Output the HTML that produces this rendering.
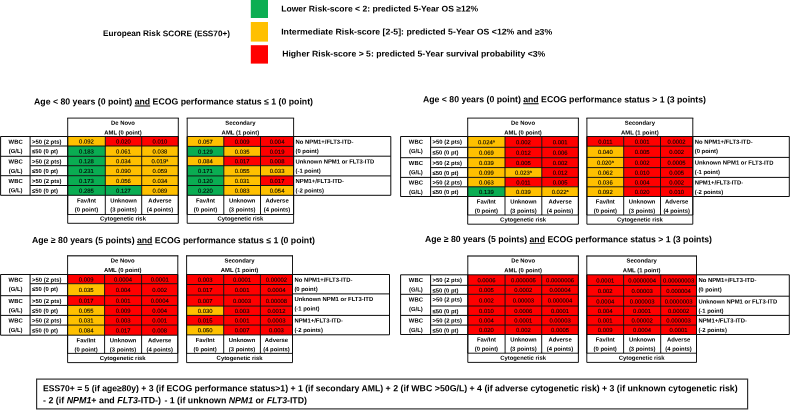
<!DOCTYPE html>
<html lang="en"><head><meta charset="utf-8"><title>European Risk SCORE (ESS70+)</title>
<style>
html,body{margin:0;padding:0;background:#fff;}
svg{display:block;}
text{font-family:"Liberation Sans", sans-serif;fill:#000;}
.n{stroke:#000;stroke-width:0.1px;}
</style></head><body>
<svg width="790" height="410" viewBox="0 0 790 410">
<rect x="0" y="0" width="790" height="410" fill="#ffffff"/>
<rect x="250.80" y="0.00" width="17.20" height="18.00" fill="#0cae52"/>
<rect x="250.80" y="22.00" width="17.20" height="19.60" fill="#ffc000"/>
<rect x="250.80" y="45.20" width="17.20" height="18.40" fill="#ff0000"/>
<rect x="67.70" y="136.50" width="37.60" height="9.50" fill="#ffc000"/>
<rect x="105.30" y="136.50" width="36.40" height="9.50" fill="#ff0000"/>
<rect x="141.70" y="136.50" width="36.60" height="9.50" fill="#ff0000"/>
<rect x="67.70" y="146.00" width="37.60" height="10.30" fill="#0aad52"/>
<rect x="105.30" y="146.00" width="36.40" height="10.30" fill="#ffc000"/>
<rect x="141.70" y="146.00" width="36.60" height="10.30" fill="#ffc000"/>
<rect x="67.70" y="156.30" width="37.60" height="9.40" fill="#0aad52"/>
<rect x="105.30" y="156.30" width="36.40" height="9.40" fill="#ffc000"/>
<rect x="141.70" y="156.30" width="36.60" height="9.40" fill="#ffc000"/>
<rect x="67.70" y="165.70" width="37.60" height="10.00" fill="#0aad52"/>
<rect x="105.30" y="165.70" width="36.40" height="10.00" fill="#ffc000"/>
<rect x="141.70" y="165.70" width="36.60" height="10.00" fill="#ffc000"/>
<rect x="67.70" y="175.70" width="37.60" height="9.80" fill="#0aad52"/>
<rect x="105.30" y="175.70" width="36.40" height="9.80" fill="#ffc000"/>
<rect x="141.70" y="175.70" width="36.60" height="9.80" fill="#ffc000"/>
<rect x="67.70" y="185.50" width="37.60" height="9.80" fill="#0aad52"/>
<rect x="105.30" y="185.50" width="36.40" height="9.80" fill="#0aad52"/>
<rect x="141.70" y="185.50" width="36.60" height="9.80" fill="#ffc000"/>
<line x1="67.70" y1="136.50" x2="178.30" y2="136.50" stroke="#0c0c0c" stroke-width="0.95"/>
<line x1="67.70" y1="146.00" x2="178.30" y2="146.00" stroke="#0c0c0c" stroke-width="0.95"/>
<line x1="67.70" y1="156.30" x2="178.30" y2="156.30" stroke="#0c0c0c" stroke-width="0.95"/>
<line x1="67.70" y1="165.70" x2="178.30" y2="165.70" stroke="#0c0c0c" stroke-width="0.95"/>
<line x1="67.70" y1="175.70" x2="178.30" y2="175.70" stroke="#0c0c0c" stroke-width="0.95"/>
<line x1="67.70" y1="185.50" x2="178.30" y2="185.50" stroke="#0c0c0c" stroke-width="0.95"/>
<line x1="67.70" y1="195.30" x2="178.30" y2="195.30" stroke="#0c0c0c" stroke-width="0.95"/>
<line x1="67.70" y1="136.50" x2="67.70" y2="214.50" stroke="#0c0c0c" stroke-width="0.95"/>
<line x1="105.30" y1="136.50" x2="105.30" y2="214.50" stroke="#0c0c0c" stroke-width="0.95"/>
<line x1="141.70" y1="136.50" x2="141.70" y2="214.50" stroke="#0c0c0c" stroke-width="0.95"/>
<line x1="178.30" y1="136.50" x2="178.30" y2="214.50" stroke="#0c0c0c" stroke-width="0.95"/>
<line x1="67.20" y1="118.15" x2="178.80" y2="118.15" stroke="#484848" stroke-width="1.35"/>
<line x1="67.70" y1="118.00" x2="67.70" y2="223.30" stroke="#0c0c0c" stroke-width="0.95"/>
<line x1="178.30" y1="118.00" x2="178.30" y2="223.30" stroke="#0c0c0c" stroke-width="0.95"/>
<line x1="67.70" y1="214.50" x2="178.30" y2="214.50" stroke="#0c0c0c" stroke-width="0.95"/>
<line x1="67.70" y1="223.30" x2="178.30" y2="223.30" stroke="#0c0c0c" stroke-width="0.95"/>
<rect x="187.20" y="136.50" width="36.60" height="9.90" fill="#ffc000"/>
<rect x="223.80" y="136.50" width="36.70" height="9.90" fill="#ff0000"/>
<rect x="260.50" y="136.50" width="33.10" height="9.90" fill="#ff0000"/>
<rect x="187.20" y="146.40" width="36.60" height="9.90" fill="#0aad52"/>
<rect x="223.80" y="146.40" width="36.70" height="9.90" fill="#ffc000"/>
<rect x="260.50" y="146.40" width="33.10" height="9.90" fill="#ff0000"/>
<rect x="187.20" y="156.30" width="36.60" height="9.40" fill="#ffc000"/>
<rect x="223.80" y="156.30" width="36.70" height="9.40" fill="#ff0000"/>
<rect x="260.50" y="156.30" width="33.10" height="9.40" fill="#ff0000"/>
<rect x="187.20" y="165.70" width="36.60" height="10.20" fill="#0aad52"/>
<rect x="223.80" y="165.70" width="36.70" height="10.20" fill="#ffc000"/>
<rect x="260.50" y="165.70" width="33.10" height="10.20" fill="#ffc000"/>
<rect x="187.20" y="175.90" width="36.60" height="9.60" fill="#0aad52"/>
<rect x="223.80" y="175.90" width="36.70" height="9.60" fill="#ffc000"/>
<rect x="260.50" y="175.90" width="33.10" height="9.60" fill="#ff0000"/>
<rect x="187.20" y="185.50" width="36.60" height="9.80" fill="#0aad52"/>
<rect x="223.80" y="185.50" width="36.70" height="9.80" fill="#ffc000"/>
<rect x="260.50" y="185.50" width="33.10" height="9.80" fill="#ffc000"/>
<line x1="187.20" y1="136.50" x2="293.60" y2="136.50" stroke="#0c0c0c" stroke-width="0.95"/>
<line x1="187.20" y1="146.40" x2="293.60" y2="146.40" stroke="#0c0c0c" stroke-width="0.95"/>
<line x1="187.20" y1="156.30" x2="293.60" y2="156.30" stroke="#0c0c0c" stroke-width="0.95"/>
<line x1="187.20" y1="165.70" x2="293.60" y2="165.70" stroke="#0c0c0c" stroke-width="0.95"/>
<line x1="187.20" y1="175.90" x2="293.60" y2="175.90" stroke="#0c0c0c" stroke-width="0.95"/>
<line x1="187.20" y1="185.50" x2="293.60" y2="185.50" stroke="#0c0c0c" stroke-width="0.95"/>
<line x1="187.20" y1="195.30" x2="293.60" y2="195.30" stroke="#0c0c0c" stroke-width="0.95"/>
<line x1="187.20" y1="136.50" x2="187.20" y2="214.50" stroke="#0c0c0c" stroke-width="0.95"/>
<line x1="223.80" y1="136.50" x2="223.80" y2="214.50" stroke="#0c0c0c" stroke-width="0.95"/>
<line x1="260.50" y1="136.50" x2="260.50" y2="214.50" stroke="#0c0c0c" stroke-width="0.95"/>
<line x1="293.60" y1="136.50" x2="293.60" y2="214.50" stroke="#0c0c0c" stroke-width="0.95"/>
<line x1="186.70" y1="118.15" x2="294.10" y2="118.15" stroke="#484848" stroke-width="1.35"/>
<line x1="187.20" y1="118.00" x2="187.20" y2="223.30" stroke="#0c0c0c" stroke-width="0.95"/>
<line x1="293.60" y1="118.00" x2="293.60" y2="223.30" stroke="#0c0c0c" stroke-width="0.95"/>
<line x1="187.20" y1="214.50" x2="293.60" y2="214.50" stroke="#0c0c0c" stroke-width="0.95"/>
<line x1="187.20" y1="223.30" x2="293.60" y2="223.30" stroke="#0c0c0c" stroke-width="0.95"/>
<line x1="0.60" y1="136.50" x2="67.70" y2="136.50" stroke="#0c0c0c" stroke-width="1.0"/>
<line x1="0.60" y1="156.30" x2="67.70" y2="156.30" stroke="#0c0c0c" stroke-width="1.0"/>
<line x1="0.60" y1="175.70" x2="67.70" y2="175.70" stroke="#0c0c0c" stroke-width="1.0"/>
<line x1="0.60" y1="195.30" x2="67.70" y2="195.30" stroke="#0c0c0c" stroke-width="1.0"/>
<line x1="30.10" y1="146.00" x2="67.70" y2="146.00" stroke="#0c0c0c" stroke-width="1.0"/>
<line x1="30.10" y1="165.70" x2="67.70" y2="165.70" stroke="#0c0c0c" stroke-width="1.0"/>
<line x1="30.10" y1="185.50" x2="67.70" y2="185.50" stroke="#0c0c0c" stroke-width="1.0"/>
<line x1="0.60" y1="136.50" x2="0.60" y2="195.30" stroke="#0c0c0c" stroke-width="1.0"/>
<line x1="30.10" y1="136.50" x2="30.10" y2="195.30" stroke="#0c0c0c" stroke-width="1.0"/>
<line x1="293.60" y1="136.50" x2="390.80" y2="136.50" stroke="#0c0c0c" stroke-width="1.0"/>
<line x1="293.60" y1="156.20" x2="390.80" y2="156.20" stroke="#0c0c0c" stroke-width="1.0"/>
<line x1="293.60" y1="175.90" x2="390.80" y2="175.90" stroke="#0c0c0c" stroke-width="1.0"/>
<line x1="293.60" y1="195.30" x2="390.80" y2="195.30" stroke="#0c0c0c" stroke-width="1.0"/>
<line x1="390.80" y1="136.50" x2="390.80" y2="195.30" stroke="#0c0c0c" stroke-width="1.0"/>
<rect x="467.70" y="136.50" width="37.30" height="10.80" fill="#ffc000"/>
<rect x="505.00" y="136.50" width="36.80" height="10.80" fill="#ff0000"/>
<rect x="541.80" y="136.50" width="36.60" height="10.80" fill="#ff0000"/>
<rect x="467.70" y="147.30" width="37.30" height="10.40" fill="#ffc000"/>
<rect x="505.00" y="147.30" width="36.80" height="10.40" fill="#ff0000"/>
<rect x="541.80" y="147.30" width="36.60" height="10.40" fill="#ff0000"/>
<rect x="467.70" y="157.70" width="37.30" height="9.90" fill="#ffc000"/>
<rect x="505.00" y="157.70" width="36.80" height="9.90" fill="#ff0000"/>
<rect x="541.80" y="157.70" width="36.60" height="9.90" fill="#ff0000"/>
<rect x="467.70" y="167.60" width="37.30" height="9.80" fill="#ffc000"/>
<rect x="505.00" y="167.60" width="36.80" height="9.80" fill="#ffc000"/>
<rect x="541.80" y="167.60" width="36.60" height="9.80" fill="#ff0000"/>
<rect x="467.70" y="177.40" width="37.30" height="9.40" fill="#ffc000"/>
<rect x="505.00" y="177.40" width="36.80" height="9.40" fill="#ff0000"/>
<rect x="541.80" y="177.40" width="36.60" height="9.40" fill="#ff0000"/>
<rect x="467.70" y="186.80" width="37.30" height="9.70" fill="#0aad52"/>
<rect x="505.00" y="186.80" width="36.80" height="9.70" fill="#ffc000"/>
<rect x="541.80" y="186.80" width="36.60" height="9.70" fill="#ffc000"/>
<line x1="467.70" y1="136.50" x2="578.40" y2="136.50" stroke="#0c0c0c" stroke-width="0.95"/>
<line x1="467.70" y1="147.30" x2="578.40" y2="147.30" stroke="#0c0c0c" stroke-width="0.95"/>
<line x1="467.70" y1="157.70" x2="578.40" y2="157.70" stroke="#0c0c0c" stroke-width="0.95"/>
<line x1="467.70" y1="167.60" x2="578.40" y2="167.60" stroke="#0c0c0c" stroke-width="0.95"/>
<line x1="467.70" y1="177.40" x2="578.40" y2="177.40" stroke="#0c0c0c" stroke-width="0.95"/>
<line x1="467.70" y1="186.80" x2="578.40" y2="186.80" stroke="#0c0c0c" stroke-width="0.95"/>
<line x1="467.70" y1="196.50" x2="578.40" y2="196.50" stroke="#0c0c0c" stroke-width="0.95"/>
<line x1="467.70" y1="136.50" x2="467.70" y2="215.00" stroke="#0c0c0c" stroke-width="0.95"/>
<line x1="505.00" y1="136.50" x2="505.00" y2="215.00" stroke="#0c0c0c" stroke-width="0.95"/>
<line x1="541.80" y1="136.50" x2="541.80" y2="215.00" stroke="#0c0c0c" stroke-width="0.95"/>
<line x1="578.40" y1="136.50" x2="578.40" y2="215.00" stroke="#0c0c0c" stroke-width="0.95"/>
<line x1="467.20" y1="118.15" x2="578.90" y2="118.15" stroke="#484848" stroke-width="1.35"/>
<line x1="467.70" y1="118.00" x2="467.70" y2="224.20" stroke="#0c0c0c" stroke-width="0.95"/>
<line x1="578.40" y1="118.00" x2="578.40" y2="224.20" stroke="#0c0c0c" stroke-width="0.95"/>
<line x1="467.70" y1="215.00" x2="578.40" y2="215.00" stroke="#0c0c0c" stroke-width="0.95"/>
<line x1="467.70" y1="224.20" x2="578.40" y2="224.20" stroke="#0c0c0c" stroke-width="0.95"/>
<rect x="586.90" y="136.50" width="36.80" height="9.70" fill="#ff0000"/>
<rect x="623.70" y="136.50" width="36.80" height="9.70" fill="#ff0000"/>
<rect x="660.50" y="136.50" width="32.30" height="9.70" fill="#ff0000"/>
<rect x="586.90" y="146.20" width="36.80" height="11.20" fill="#ffc000"/>
<rect x="623.70" y="146.20" width="36.80" height="11.20" fill="#ff0000"/>
<rect x="660.50" y="146.20" width="32.30" height="11.20" fill="#ff0000"/>
<rect x="586.90" y="157.40" width="36.80" height="10.20" fill="#ffc000"/>
<rect x="623.70" y="157.40" width="36.80" height="10.20" fill="#ff0000"/>
<rect x="660.50" y="157.40" width="32.30" height="10.20" fill="#ff0000"/>
<rect x="586.90" y="167.60" width="36.80" height="9.80" fill="#ffc000"/>
<rect x="623.70" y="167.60" width="36.80" height="9.80" fill="#ff0000"/>
<rect x="660.50" y="167.60" width="32.30" height="9.80" fill="#ff0000"/>
<rect x="586.90" y="177.40" width="36.80" height="9.40" fill="#ffc000"/>
<rect x="623.70" y="177.40" width="36.80" height="9.40" fill="#ff0000"/>
<rect x="660.50" y="177.40" width="32.30" height="9.40" fill="#ff0000"/>
<rect x="586.90" y="186.80" width="36.80" height="9.70" fill="#ffc000"/>
<rect x="623.70" y="186.80" width="36.80" height="9.70" fill="#ff0000"/>
<rect x="660.50" y="186.80" width="32.30" height="9.70" fill="#ff0000"/>
<line x1="586.90" y1="136.50" x2="692.80" y2="136.50" stroke="#0c0c0c" stroke-width="0.95"/>
<line x1="586.90" y1="146.20" x2="692.80" y2="146.20" stroke="#0c0c0c" stroke-width="0.95"/>
<line x1="586.90" y1="157.40" x2="692.80" y2="157.40" stroke="#0c0c0c" stroke-width="0.95"/>
<line x1="586.90" y1="167.60" x2="692.80" y2="167.60" stroke="#0c0c0c" stroke-width="0.95"/>
<line x1="586.90" y1="177.40" x2="692.80" y2="177.40" stroke="#0c0c0c" stroke-width="0.95"/>
<line x1="586.90" y1="186.80" x2="692.80" y2="186.80" stroke="#0c0c0c" stroke-width="0.95"/>
<line x1="586.90" y1="196.50" x2="692.80" y2="196.50" stroke="#0c0c0c" stroke-width="0.95"/>
<line x1="586.90" y1="136.50" x2="586.90" y2="215.00" stroke="#0c0c0c" stroke-width="0.95"/>
<line x1="623.70" y1="136.50" x2="623.70" y2="215.00" stroke="#0c0c0c" stroke-width="0.95"/>
<line x1="660.50" y1="136.50" x2="660.50" y2="215.00" stroke="#0c0c0c" stroke-width="0.95"/>
<line x1="692.80" y1="136.50" x2="692.80" y2="215.00" stroke="#0c0c0c" stroke-width="0.95"/>
<line x1="586.40" y1="118.15" x2="693.30" y2="118.15" stroke="#484848" stroke-width="1.35"/>
<line x1="586.90" y1="118.00" x2="586.90" y2="224.20" stroke="#0c0c0c" stroke-width="0.95"/>
<line x1="692.80" y1="118.00" x2="692.80" y2="224.20" stroke="#0c0c0c" stroke-width="0.95"/>
<line x1="586.90" y1="215.00" x2="692.80" y2="215.00" stroke="#0c0c0c" stroke-width="0.95"/>
<line x1="586.90" y1="224.20" x2="692.80" y2="224.20" stroke="#0c0c0c" stroke-width="0.95"/>
<line x1="400.60" y1="136.50" x2="467.70" y2="136.50" stroke="#0c0c0c" stroke-width="1.0"/>
<line x1="400.60" y1="157.70" x2="467.70" y2="157.70" stroke="#0c0c0c" stroke-width="1.0"/>
<line x1="400.60" y1="177.40" x2="467.70" y2="177.40" stroke="#0c0c0c" stroke-width="1.0"/>
<line x1="400.60" y1="196.50" x2="467.70" y2="196.50" stroke="#0c0c0c" stroke-width="1.0"/>
<line x1="430.60" y1="147.30" x2="467.70" y2="147.30" stroke="#0c0c0c" stroke-width="1.0"/>
<line x1="430.60" y1="167.60" x2="467.70" y2="167.60" stroke="#0c0c0c" stroke-width="1.0"/>
<line x1="430.60" y1="186.80" x2="467.70" y2="186.80" stroke="#0c0c0c" stroke-width="1.0"/>
<line x1="400.60" y1="136.50" x2="400.60" y2="196.50" stroke="#0c0c0c" stroke-width="1.0"/>
<line x1="430.60" y1="136.50" x2="430.60" y2="196.50" stroke="#0c0c0c" stroke-width="1.0"/>
<line x1="692.80" y1="136.50" x2="789.30" y2="136.50" stroke="#0c0c0c" stroke-width="1.0"/>
<line x1="692.80" y1="157.40" x2="789.30" y2="157.40" stroke="#0c0c0c" stroke-width="1.0"/>
<line x1="692.80" y1="177.40" x2="789.30" y2="177.40" stroke="#0c0c0c" stroke-width="1.0"/>
<line x1="692.80" y1="196.50" x2="789.30" y2="196.50" stroke="#0c0c0c" stroke-width="1.0"/>
<line x1="789.30" y1="136.50" x2="789.30" y2="196.50" stroke="#0c0c0c" stroke-width="1.0"/>
<rect x="67.60" y="274.50" width="37.00" height="9.20" fill="#ff0000"/>
<rect x="104.60" y="274.50" width="37.00" height="9.20" fill="#ff0000"/>
<rect x="141.60" y="274.50" width="36.20" height="9.20" fill="#ff0000"/>
<rect x="67.60" y="283.70" width="37.00" height="12.00" fill="#ffc000"/>
<rect x="104.60" y="283.70" width="37.00" height="12.00" fill="#ff0000"/>
<rect x="141.60" y="283.70" width="36.20" height="12.00" fill="#ff0000"/>
<rect x="67.60" y="295.70" width="37.00" height="9.70" fill="#ff0000"/>
<rect x="104.60" y="295.70" width="37.00" height="9.70" fill="#ff0000"/>
<rect x="141.60" y="295.70" width="36.20" height="9.70" fill="#ff0000"/>
<rect x="67.60" y="305.40" width="37.00" height="10.00" fill="#ffc000"/>
<rect x="104.60" y="305.40" width="37.00" height="10.00" fill="#ff0000"/>
<rect x="141.60" y="305.40" width="36.20" height="10.00" fill="#ff0000"/>
<rect x="67.60" y="315.40" width="37.00" height="9.70" fill="#ffc000"/>
<rect x="104.60" y="315.40" width="37.00" height="9.70" fill="#ff0000"/>
<rect x="141.60" y="315.40" width="36.20" height="9.70" fill="#ff0000"/>
<rect x="67.60" y="325.10" width="37.00" height="10.10" fill="#ffc000"/>
<rect x="104.60" y="325.10" width="37.00" height="10.10" fill="#ff0000"/>
<rect x="141.60" y="325.10" width="36.20" height="10.10" fill="#ff0000"/>
<line x1="67.60" y1="274.50" x2="177.80" y2="274.50" stroke="#0c0c0c" stroke-width="0.95"/>
<line x1="67.60" y1="283.70" x2="177.80" y2="283.70" stroke="#0c0c0c" stroke-width="0.95"/>
<line x1="67.60" y1="295.70" x2="177.80" y2="295.70" stroke="#0c0c0c" stroke-width="0.95"/>
<line x1="67.60" y1="305.40" x2="177.80" y2="305.40" stroke="#0c0c0c" stroke-width="0.95"/>
<line x1="67.60" y1="315.40" x2="177.80" y2="315.40" stroke="#0c0c0c" stroke-width="0.95"/>
<line x1="67.60" y1="325.10" x2="177.80" y2="325.10" stroke="#0c0c0c" stroke-width="0.95"/>
<line x1="67.60" y1="335.20" x2="177.80" y2="335.20" stroke="#0c0c0c" stroke-width="0.95"/>
<line x1="67.60" y1="274.50" x2="67.60" y2="353.40" stroke="#0c0c0c" stroke-width="0.95"/>
<line x1="104.60" y1="274.50" x2="104.60" y2="353.40" stroke="#0c0c0c" stroke-width="0.95"/>
<line x1="141.60" y1="274.50" x2="141.60" y2="353.40" stroke="#0c0c0c" stroke-width="0.95"/>
<line x1="177.80" y1="274.50" x2="177.80" y2="353.40" stroke="#0c0c0c" stroke-width="0.95"/>
<line x1="67.10" y1="255.75" x2="178.30" y2="255.75" stroke="#484848" stroke-width="1.35"/>
<line x1="67.60" y1="255.60" x2="67.60" y2="362.60" stroke="#0c0c0c" stroke-width="0.95"/>
<line x1="177.80" y1="255.60" x2="177.80" y2="362.60" stroke="#0c0c0c" stroke-width="0.95"/>
<line x1="67.60" y1="353.40" x2="177.80" y2="353.40" stroke="#0c0c0c" stroke-width="0.95"/>
<line x1="67.60" y1="362.60" x2="177.80" y2="362.60" stroke="#0c0c0c" stroke-width="0.95"/>
<rect x="186.60" y="274.50" width="37.10" height="10.00" fill="#ff0000"/>
<rect x="223.70" y="274.50" width="36.70" height="10.00" fill="#ff0000"/>
<rect x="260.40" y="274.50" width="32.10" height="10.00" fill="#ff0000"/>
<rect x="186.60" y="284.50" width="37.10" height="10.60" fill="#ff0000"/>
<rect x="223.70" y="284.50" width="36.70" height="10.60" fill="#ff0000"/>
<rect x="260.40" y="284.50" width="32.10" height="10.60" fill="#ff0000"/>
<rect x="186.60" y="295.10" width="37.10" height="11.00" fill="#ff0000"/>
<rect x="223.70" y="295.10" width="36.70" height="11.00" fill="#ff0000"/>
<rect x="260.40" y="295.10" width="32.10" height="11.00" fill="#ff0000"/>
<rect x="186.60" y="306.10" width="37.10" height="9.30" fill="#ffc000"/>
<rect x="223.70" y="306.10" width="36.70" height="9.30" fill="#ff0000"/>
<rect x="260.40" y="306.10" width="32.10" height="9.30" fill="#ff0000"/>
<rect x="186.60" y="315.40" width="37.10" height="9.70" fill="#ff0000"/>
<rect x="223.70" y="315.40" width="36.70" height="9.70" fill="#ff0000"/>
<rect x="260.40" y="315.40" width="32.10" height="9.70" fill="#ff0000"/>
<rect x="186.60" y="325.10" width="37.10" height="9.80" fill="#ffc000"/>
<rect x="223.70" y="325.10" width="36.70" height="9.80" fill="#ff0000"/>
<rect x="260.40" y="325.10" width="32.10" height="9.80" fill="#ff0000"/>
<line x1="186.60" y1="274.50" x2="292.50" y2="274.50" stroke="#0c0c0c" stroke-width="0.95"/>
<line x1="186.60" y1="284.50" x2="292.50" y2="284.50" stroke="#0c0c0c" stroke-width="0.95"/>
<line x1="186.60" y1="295.10" x2="292.50" y2="295.10" stroke="#0c0c0c" stroke-width="0.95"/>
<line x1="186.60" y1="306.10" x2="292.50" y2="306.10" stroke="#0c0c0c" stroke-width="0.95"/>
<line x1="186.60" y1="315.40" x2="292.50" y2="315.40" stroke="#0c0c0c" stroke-width="0.95"/>
<line x1="186.60" y1="325.10" x2="292.50" y2="325.10" stroke="#0c0c0c" stroke-width="0.95"/>
<line x1="186.60" y1="334.90" x2="292.50" y2="334.90" stroke="#0c0c0c" stroke-width="0.95"/>
<line x1="186.60" y1="274.50" x2="186.60" y2="353.40" stroke="#0c0c0c" stroke-width="0.95"/>
<line x1="223.70" y1="274.50" x2="223.70" y2="353.40" stroke="#0c0c0c" stroke-width="0.95"/>
<line x1="260.40" y1="274.50" x2="260.40" y2="353.40" stroke="#0c0c0c" stroke-width="0.95"/>
<line x1="292.50" y1="274.50" x2="292.50" y2="353.40" stroke="#0c0c0c" stroke-width="0.95"/>
<line x1="186.10" y1="255.75" x2="293.00" y2="255.75" stroke="#484848" stroke-width="1.35"/>
<line x1="186.60" y1="255.60" x2="186.60" y2="362.60" stroke="#0c0c0c" stroke-width="0.95"/>
<line x1="292.50" y1="255.60" x2="292.50" y2="362.60" stroke="#0c0c0c" stroke-width="0.95"/>
<line x1="186.60" y1="353.40" x2="292.50" y2="353.40" stroke="#0c0c0c" stroke-width="0.95"/>
<line x1="186.60" y1="362.60" x2="292.50" y2="362.60" stroke="#0c0c0c" stroke-width="0.95"/>
<line x1="0.60" y1="274.50" x2="67.60" y2="274.50" stroke="#0c0c0c" stroke-width="1.0"/>
<line x1="0.60" y1="295.70" x2="67.60" y2="295.70" stroke="#0c0c0c" stroke-width="1.0"/>
<line x1="0.60" y1="315.40" x2="67.60" y2="315.40" stroke="#0c0c0c" stroke-width="1.0"/>
<line x1="0.60" y1="335.20" x2="67.60" y2="335.20" stroke="#0c0c0c" stroke-width="1.0"/>
<line x1="30.10" y1="283.70" x2="67.60" y2="283.70" stroke="#0c0c0c" stroke-width="1.0"/>
<line x1="30.10" y1="305.40" x2="67.60" y2="305.40" stroke="#0c0c0c" stroke-width="1.0"/>
<line x1="30.10" y1="325.10" x2="67.60" y2="325.10" stroke="#0c0c0c" stroke-width="1.0"/>
<line x1="0.60" y1="274.50" x2="0.60" y2="335.20" stroke="#0c0c0c" stroke-width="1.0"/>
<line x1="30.10" y1="274.50" x2="30.10" y2="335.20" stroke="#0c0c0c" stroke-width="1.0"/>
<line x1="292.50" y1="274.50" x2="389.50" y2="274.50" stroke="#0c0c0c" stroke-width="1.0"/>
<line x1="292.50" y1="293.90" x2="389.50" y2="293.90" stroke="#0c0c0c" stroke-width="1.0"/>
<line x1="292.50" y1="315.40" x2="389.50" y2="315.40" stroke="#0c0c0c" stroke-width="1.0"/>
<line x1="292.50" y1="334.80" x2="389.50" y2="334.80" stroke="#0c0c0c" stroke-width="1.0"/>
<line x1="389.50" y1="274.50" x2="389.50" y2="334.80" stroke="#0c0c0c" stroke-width="1.0"/>
<rect x="467.80" y="274.80" width="37.30" height="10.50" fill="#ff0000"/>
<rect x="505.10" y="274.80" width="36.60" height="10.50" fill="#ff0000"/>
<rect x="541.70" y="274.80" width="36.70" height="10.50" fill="#ff0000"/>
<rect x="467.80" y="285.30" width="37.30" height="9.00" fill="#ff0000"/>
<rect x="505.10" y="285.30" width="36.60" height="9.00" fill="#ff0000"/>
<rect x="541.70" y="285.30" width="36.70" height="9.00" fill="#ff0000"/>
<rect x="467.80" y="294.30" width="37.30" height="11.70" fill="#ff0000"/>
<rect x="505.10" y="294.30" width="36.60" height="11.70" fill="#ff0000"/>
<rect x="541.70" y="294.30" width="36.70" height="11.70" fill="#ff0000"/>
<rect x="467.80" y="306.00" width="37.30" height="9.40" fill="#ff0000"/>
<rect x="505.10" y="306.00" width="36.60" height="9.40" fill="#ff0000"/>
<rect x="541.70" y="306.00" width="36.70" height="9.40" fill="#ff0000"/>
<rect x="467.80" y="315.40" width="37.30" height="9.70" fill="#ff0000"/>
<rect x="505.10" y="315.40" width="36.60" height="9.70" fill="#ff0000"/>
<rect x="541.70" y="315.40" width="36.70" height="9.70" fill="#ff0000"/>
<rect x="467.80" y="325.10" width="37.30" height="9.40" fill="#ff0000"/>
<rect x="505.10" y="325.10" width="36.60" height="9.40" fill="#ff0000"/>
<rect x="541.70" y="325.10" width="36.70" height="9.40" fill="#ff0000"/>
<line x1="467.80" y1="274.80" x2="578.40" y2="274.80" stroke="#0c0c0c" stroke-width="0.95"/>
<line x1="467.80" y1="285.30" x2="578.40" y2="285.30" stroke="#0c0c0c" stroke-width="0.95"/>
<line x1="467.80" y1="294.30" x2="578.40" y2="294.30" stroke="#0c0c0c" stroke-width="0.95"/>
<line x1="467.80" y1="306.00" x2="578.40" y2="306.00" stroke="#0c0c0c" stroke-width="0.95"/>
<line x1="467.80" y1="315.40" x2="578.40" y2="315.40" stroke="#0c0c0c" stroke-width="0.95"/>
<line x1="467.80" y1="325.10" x2="578.40" y2="325.10" stroke="#0c0c0c" stroke-width="0.95"/>
<line x1="467.80" y1="334.50" x2="578.40" y2="334.50" stroke="#0c0c0c" stroke-width="0.95"/>
<line x1="467.80" y1="274.80" x2="467.80" y2="353.20" stroke="#0c0c0c" stroke-width="0.95"/>
<line x1="505.10" y1="274.80" x2="505.10" y2="353.20" stroke="#0c0c0c" stroke-width="0.95"/>
<line x1="541.70" y1="274.80" x2="541.70" y2="353.20" stroke="#0c0c0c" stroke-width="0.95"/>
<line x1="578.40" y1="274.80" x2="578.40" y2="353.20" stroke="#0c0c0c" stroke-width="0.95"/>
<line x1="467.30" y1="255.95" x2="578.90" y2="255.95" stroke="#484848" stroke-width="1.35"/>
<line x1="467.80" y1="255.80" x2="467.80" y2="362.40" stroke="#0c0c0c" stroke-width="0.95"/>
<line x1="578.40" y1="255.80" x2="578.40" y2="362.40" stroke="#0c0c0c" stroke-width="0.95"/>
<line x1="467.80" y1="353.20" x2="578.40" y2="353.20" stroke="#0c0c0c" stroke-width="0.95"/>
<line x1="467.80" y1="362.40" x2="578.40" y2="362.40" stroke="#0c0c0c" stroke-width="0.95"/>
<rect x="586.80" y="274.80" width="36.80" height="10.60" fill="#ff0000"/>
<rect x="623.60" y="274.80" width="37.10" height="10.60" fill="#ff0000"/>
<rect x="660.70" y="274.80" width="35.80" height="10.60" fill="#ff0000"/>
<rect x="586.80" y="285.40" width="36.80" height="10.80" fill="#ff0000"/>
<rect x="623.60" y="285.40" width="37.10" height="10.80" fill="#ff0000"/>
<rect x="660.70" y="285.40" width="35.80" height="10.80" fill="#ff0000"/>
<rect x="586.80" y="296.20" width="36.80" height="10.00" fill="#ff0000"/>
<rect x="623.60" y="296.20" width="37.10" height="10.00" fill="#ff0000"/>
<rect x="660.70" y="296.20" width="35.80" height="10.00" fill="#ff0000"/>
<rect x="586.80" y="306.20" width="36.80" height="9.20" fill="#ff0000"/>
<rect x="623.60" y="306.20" width="37.10" height="9.20" fill="#ff0000"/>
<rect x="660.70" y="306.20" width="35.80" height="9.20" fill="#ff0000"/>
<rect x="586.80" y="315.40" width="36.80" height="9.70" fill="#ff0000"/>
<rect x="623.60" y="315.40" width="37.10" height="9.70" fill="#ff0000"/>
<rect x="660.70" y="315.40" width="35.80" height="9.70" fill="#ff0000"/>
<rect x="586.80" y="325.10" width="36.80" height="9.40" fill="#ff0000"/>
<rect x="623.60" y="325.10" width="37.10" height="9.40" fill="#ff0000"/>
<rect x="660.70" y="325.10" width="35.80" height="9.40" fill="#ff0000"/>
<line x1="586.80" y1="274.80" x2="696.50" y2="274.80" stroke="#0c0c0c" stroke-width="0.95"/>
<line x1="586.80" y1="285.40" x2="696.50" y2="285.40" stroke="#0c0c0c" stroke-width="0.95"/>
<line x1="586.80" y1="296.20" x2="696.50" y2="296.20" stroke="#0c0c0c" stroke-width="0.95"/>
<line x1="586.80" y1="306.20" x2="696.50" y2="306.20" stroke="#0c0c0c" stroke-width="0.95"/>
<line x1="586.80" y1="315.40" x2="696.50" y2="315.40" stroke="#0c0c0c" stroke-width="0.95"/>
<line x1="586.80" y1="325.10" x2="696.50" y2="325.10" stroke="#0c0c0c" stroke-width="0.95"/>
<line x1="586.80" y1="334.50" x2="696.50" y2="334.50" stroke="#0c0c0c" stroke-width="0.95"/>
<line x1="586.80" y1="274.80" x2="586.80" y2="353.20" stroke="#0c0c0c" stroke-width="0.95"/>
<line x1="623.60" y1="274.80" x2="623.60" y2="353.20" stroke="#0c0c0c" stroke-width="0.95"/>
<line x1="660.70" y1="274.80" x2="660.70" y2="353.20" stroke="#0c0c0c" stroke-width="0.95"/>
<line x1="696.50" y1="274.80" x2="696.50" y2="353.20" stroke="#0c0c0c" stroke-width="0.95"/>
<line x1="586.30" y1="255.95" x2="697.00" y2="255.95" stroke="#484848" stroke-width="1.35"/>
<line x1="586.80" y1="255.80" x2="586.80" y2="362.40" stroke="#0c0c0c" stroke-width="0.95"/>
<line x1="696.50" y1="255.80" x2="696.50" y2="362.40" stroke="#0c0c0c" stroke-width="0.95"/>
<line x1="586.80" y1="353.20" x2="696.50" y2="353.20" stroke="#0c0c0c" stroke-width="0.95"/>
<line x1="586.80" y1="362.40" x2="696.50" y2="362.40" stroke="#0c0c0c" stroke-width="0.95"/>
<line x1="400.60" y1="274.80" x2="467.80" y2="274.80" stroke="#0c0c0c" stroke-width="1.0"/>
<line x1="400.60" y1="294.30" x2="467.80" y2="294.30" stroke="#0c0c0c" stroke-width="1.0"/>
<line x1="400.60" y1="315.40" x2="467.80" y2="315.40" stroke="#0c0c0c" stroke-width="1.0"/>
<line x1="400.60" y1="334.50" x2="467.80" y2="334.50" stroke="#0c0c0c" stroke-width="1.0"/>
<line x1="430.60" y1="285.30" x2="467.80" y2="285.30" stroke="#0c0c0c" stroke-width="1.0"/>
<line x1="430.60" y1="306.00" x2="467.80" y2="306.00" stroke="#0c0c0c" stroke-width="1.0"/>
<line x1="430.60" y1="325.10" x2="467.80" y2="325.10" stroke="#0c0c0c" stroke-width="1.0"/>
<line x1="400.60" y1="274.80" x2="400.60" y2="334.50" stroke="#0c0c0c" stroke-width="1.0"/>
<line x1="430.60" y1="274.80" x2="430.60" y2="334.50" stroke="#0c0c0c" stroke-width="1.0"/>
<line x1="696.50" y1="274.80" x2="789.30" y2="274.80" stroke="#0c0c0c" stroke-width="1.0"/>
<line x1="696.50" y1="296.20" x2="789.30" y2="296.20" stroke="#0c0c0c" stroke-width="1.0"/>
<line x1="696.50" y1="315.40" x2="789.30" y2="315.40" stroke="#0c0c0c" stroke-width="1.0"/>
<line x1="696.50" y1="334.50" x2="789.30" y2="334.50" stroke="#0c0c0c" stroke-width="1.0"/>
<line x1="789.30" y1="274.80" x2="789.30" y2="334.50" stroke="#0c0c0c" stroke-width="1.0"/>
<rect x="36.60" y="379.10" width="711.00" height="29.80" fill="none" stroke="#333" stroke-width="1.2"/>
<g transform="matrix(1,0.0005,0,1,0,0)">
<text x="281.20" y="11.36" font-size="8.34" font-weight="bold" textLength="197" lengthAdjust="spacingAndGlyphs">Lower Risk-score &lt; 2: predicted 5-Year OS ≥12%</text>
<text x="281.20" y="34.36" font-size="8.42" font-weight="bold" textLength="271" lengthAdjust="spacingAndGlyphs">Intermediate Risk-score [2-5]: predicted 5-Year OS &lt;12% and ≥3%</text>
<text x="282.20" y="56.36" font-size="8.38" font-weight="bold" textLength="263" lengthAdjust="spacingAndGlyphs">Higher Risk-score &gt; 5: predicted 5-Year survival probability &lt;3%</text>
<text x="103.00" y="36.05" font-size="8.16" font-weight="bold" textLength="127" lengthAdjust="spacingAndGlyphs">European Risk SCORE (ESS70+)</text>
<text x="34.00" y="104.48" font-size="8.86" font-weight="bold" textLength="279" lengthAdjust="spacingAndGlyphs">Age &lt; 80 years (0 point) <tspan text-decoration="underline">and</tspan> ECOG performance status ≤ 1 (0 point)</text>
<text x="423.00" y="102.09" font-size="8.84" font-weight="bold" textLength="283" lengthAdjust="spacingAndGlyphs">Age &lt; 80 years (0 point) <tspan text-decoration="underline">and</tspan> ECOG performance status &gt; 1 (3 points)</text>
<text x="32.00" y="243.08" font-size="8.85" font-weight="bold" textLength="283" lengthAdjust="spacingAndGlyphs">Age ≥ 80 years (5 points) <tspan text-decoration="underline">and</tspan> ECOG performance status ≤ 1 (0 point)</text>
<text x="425.00" y="241.89" font-size="8.84" font-weight="bold" textLength="287" lengthAdjust="spacingAndGlyphs">Age ≥ 80 years (5 points) <tspan text-decoration="underline">and</tspan> ECOG performance status &gt; 1 (3 points)</text>
<text x="86.50" y="143.51" font-size="5.90" class="n" text-anchor="middle">0.092</text>
<text x="123.50" y="143.49" font-size="5.90" class="n" text-anchor="middle">0.020</text>
<text x="160.00" y="143.47" font-size="5.90" class="n" text-anchor="middle">0.010</text>
<text x="86.50" y="153.41" font-size="5.90" class="n" text-anchor="middle">0.183</text>
<text x="123.50" y="153.39" font-size="5.90" class="n" text-anchor="middle">0.061</text>
<text x="160.00" y="153.37" font-size="5.90" class="n" text-anchor="middle">0.038</text>
<text x="86.50" y="163.26" font-size="5.90" class="n" text-anchor="middle">0.128</text>
<text x="123.50" y="163.24" font-size="5.90" class="n" text-anchor="middle">0.034</text>
<text x="160.00" y="163.22" font-size="5.90" class="n" text-anchor="middle">0.019<tspan font-size="3.66" dy="-2">a</tspan></text>
<text x="86.50" y="172.96" font-size="5.90" class="n" text-anchor="middle">0.231</text>
<text x="123.50" y="172.94" font-size="5.90" class="n" text-anchor="middle">0.090</text>
<text x="160.00" y="172.92" font-size="5.90" class="n" text-anchor="middle">0.059</text>
<text x="86.50" y="182.86" font-size="5.90" class="n" text-anchor="middle">0.173</text>
<text x="123.50" y="182.84" font-size="5.90" class="n" text-anchor="middle">0.056</text>
<text x="160.00" y="182.82" font-size="5.90" class="n" text-anchor="middle">0.034</text>
<text x="86.50" y="192.66" font-size="5.90" class="n" text-anchor="middle">0.285</text>
<text x="123.50" y="192.64" font-size="5.90" class="n" text-anchor="middle">0.127</text>
<text x="160.00" y="192.62" font-size="5.90" class="n" text-anchor="middle">0.089</text>
<text x="123.00" y="124.74" font-size="5.90" font-weight="bold" text-anchor="middle">De Novo</text>
<text x="123.00" y="134.34" font-size="5.90" font-weight="bold" text-anchor="middle">AML (0 point)</text>
<text x="86.50" y="202.36" font-size="5.90" font-weight="bold" text-anchor="middle">Fav/Int</text>
<text x="86.50" y="211.56" font-size="5.90" font-weight="bold" text-anchor="middle">(0 point)</text>
<text x="123.50" y="202.34" font-size="5.90" font-weight="bold" text-anchor="middle">Unknown</text>
<text x="123.50" y="211.54" font-size="5.90" font-weight="bold" text-anchor="middle">(3 points)</text>
<text x="160.00" y="202.32" font-size="5.90" font-weight="bold" text-anchor="middle">Adverse</text>
<text x="160.00" y="211.52" font-size="5.90" font-weight="bold" text-anchor="middle">(4 points)</text>
<text x="123.00" y="220.54" font-size="5.90" font-weight="bold" text-anchor="middle">Cytogenetic risk</text>
<text x="205.50" y="143.65" font-size="5.90" class="n" text-anchor="middle">0.057</text>
<text x="242.15" y="143.63" font-size="5.90" class="n" text-anchor="middle">0.009</text>
<text x="277.05" y="143.61" font-size="5.90" class="n" text-anchor="middle">0.004</text>
<text x="205.50" y="153.55" font-size="5.90" class="n" text-anchor="middle">0.129</text>
<text x="242.15" y="153.53" font-size="5.90" class="n" text-anchor="middle">0.035</text>
<text x="277.05" y="153.51" font-size="5.90" class="n" text-anchor="middle">0.019</text>
<text x="205.50" y="163.20" font-size="5.90" class="n" text-anchor="middle">0.084</text>
<text x="242.15" y="163.18" font-size="5.90" class="n" text-anchor="middle">0.017</text>
<text x="277.05" y="163.16" font-size="5.90" class="n" text-anchor="middle">0.008</text>
<text x="205.50" y="173.00" font-size="5.90" class="n" text-anchor="middle">0.171</text>
<text x="242.15" y="172.98" font-size="5.90" class="n" text-anchor="middle">0.055</text>
<text x="277.05" y="172.96" font-size="5.90" class="n" text-anchor="middle">0.033</text>
<text x="205.50" y="182.90" font-size="5.90" class="n" text-anchor="middle">0.120</text>
<text x="242.15" y="182.88" font-size="5.90" class="n" text-anchor="middle">0.031</text>
<text x="277.05" y="182.86" font-size="5.90" class="n" text-anchor="middle">0.017</text>
<text x="205.50" y="192.60" font-size="5.90" class="n" text-anchor="middle">0.220</text>
<text x="242.15" y="192.58" font-size="5.90" class="n" text-anchor="middle">0.083</text>
<text x="277.05" y="192.56" font-size="5.90" class="n" text-anchor="middle">0.054</text>
<text x="240.40" y="124.68" font-size="5.90" font-weight="bold" text-anchor="middle">Secondary</text>
<text x="240.40" y="134.28" font-size="5.90" font-weight="bold" text-anchor="middle">AML (1 point)</text>
<text x="205.50" y="202.30" font-size="5.90" font-weight="bold" text-anchor="middle">Fav/Int</text>
<text x="205.50" y="211.50" font-size="5.90" font-weight="bold" text-anchor="middle">(0 point)</text>
<text x="242.15" y="202.28" font-size="5.90" font-weight="bold" text-anchor="middle">Unknown</text>
<text x="242.15" y="211.48" font-size="5.90" font-weight="bold" text-anchor="middle">(3 points)</text>
<text x="277.05" y="202.26" font-size="5.90" font-weight="bold" text-anchor="middle">Adverse</text>
<text x="277.05" y="211.46" font-size="5.90" font-weight="bold" text-anchor="middle">(4 points)</text>
<text x="240.40" y="220.48" font-size="5.90" font-weight="bold" text-anchor="middle">Cytogenetic risk</text>
<text x="15.65" y="143.69" font-size="5.90" font-weight="bold" text-anchor="middle">WBC</text>
<text x="15.65" y="153.09" font-size="5.90" font-weight="bold" text-anchor="middle">(G/L)</text>
<text x="32.10" y="143.68" font-size="5.90" font-weight="bold">&gt;50 (2 pts)</text>
<text x="32.10" y="153.28" font-size="5.90" font-weight="bold">≤50 (0 pt)</text>
<text x="15.65" y="163.49" font-size="5.90" font-weight="bold" text-anchor="middle">WBC</text>
<text x="15.65" y="172.89" font-size="5.90" font-weight="bold" text-anchor="middle">(G/L)</text>
<text x="32.10" y="163.48" font-size="5.90" font-weight="bold">&gt;50 (2 pts)</text>
<text x="32.10" y="172.98" font-size="5.90" font-weight="bold">≤50 (0 pt)</text>
<text x="15.65" y="182.89" font-size="5.90" font-weight="bold" text-anchor="middle">WBC</text>
<text x="15.65" y="192.29" font-size="5.90" font-weight="bold" text-anchor="middle">(G/L)</text>
<text x="32.10" y="182.88" font-size="5.90" font-weight="bold">&gt;50 (2 pts)</text>
<text x="32.10" y="192.78" font-size="5.90" font-weight="bold">≤50 (0 pt)</text>
<text x="295.50" y="143.55" font-size="5.90" font-weight="bold">No NPM1+/FLT3-ITD-</text>
<text x="295.50" y="152.95" font-size="5.90" font-weight="bold">(0 point)</text>
<text x="295.50" y="163.25" font-size="5.90" font-weight="bold">Unknown NPM1 or FLT3-ITD</text>
<text x="295.50" y="172.65" font-size="5.90" font-weight="bold">(-1 point)</text>
<text x="295.50" y="182.95" font-size="5.90" font-weight="bold">NPM1+/FLT3-ITD-</text>
<text x="295.50" y="192.35" font-size="5.90" font-weight="bold">(-2 points)</text>
<text x="486.35" y="143.96" font-size="5.90" class="n" text-anchor="middle">0.024<tspan font-size="3.66" dy="-2">a</tspan></text>
<text x="523.40" y="143.94" font-size="5.90" class="n" text-anchor="middle">0.002</text>
<text x="560.10" y="143.92" font-size="5.90" class="n" text-anchor="middle">0.001</text>
<text x="486.35" y="154.56" font-size="5.90" class="n" text-anchor="middle">0.069</text>
<text x="523.40" y="154.54" font-size="5.90" class="n" text-anchor="middle">0.012</text>
<text x="560.10" y="154.52" font-size="5.90" class="n" text-anchor="middle">0.006</text>
<text x="486.35" y="164.71" font-size="5.90" class="n" text-anchor="middle">0.039</text>
<text x="523.40" y="164.69" font-size="5.90" class="n" text-anchor="middle">0.005</text>
<text x="560.10" y="164.67" font-size="5.90" class="n" text-anchor="middle">0.002</text>
<text x="486.35" y="174.56" font-size="5.90" class="n" text-anchor="middle">0.099</text>
<text x="523.40" y="174.54" font-size="5.90" class="n" text-anchor="middle">0.023<tspan font-size="3.66" dy="-2">a</tspan></text>
<text x="560.10" y="174.52" font-size="5.90" class="n" text-anchor="middle">0.012</text>
<text x="486.35" y="184.16" font-size="5.90" class="n" text-anchor="middle">0.063</text>
<text x="523.40" y="184.14" font-size="5.90" class="n" text-anchor="middle">0.011</text>
<text x="560.10" y="184.12" font-size="5.90" class="n" text-anchor="middle">0.005</text>
<text x="486.35" y="193.71" font-size="5.90" class="n" text-anchor="middle">0.139</text>
<text x="523.40" y="193.69" font-size="5.90" class="n" text-anchor="middle">0.039</text>
<text x="560.10" y="193.67" font-size="5.90" class="n" text-anchor="middle">0.022<tspan font-size="3.66" dy="-2">a</tspan></text>
<text x="523.05" y="124.54" font-size="5.90" font-weight="bold" text-anchor="middle">De Novo</text>
<text x="523.05" y="134.14" font-size="5.90" font-weight="bold" text-anchor="middle">AML (0 point)</text>
<text x="486.35" y="203.36" font-size="5.90" font-weight="bold" text-anchor="middle">Fav/Int</text>
<text x="486.35" y="212.56" font-size="5.90" font-weight="bold" text-anchor="middle">(0 point)</text>
<text x="523.40" y="203.34" font-size="5.90" font-weight="bold" text-anchor="middle">Unknown</text>
<text x="523.40" y="212.54" font-size="5.90" font-weight="bold" text-anchor="middle">(3 points)</text>
<text x="560.10" y="203.32" font-size="5.90" font-weight="bold" text-anchor="middle">Adverse</text>
<text x="560.10" y="212.52" font-size="5.90" font-weight="bold" text-anchor="middle">(4 points)</text>
<text x="523.05" y="221.24" font-size="5.90" font-weight="bold" text-anchor="middle">Cytogenetic risk</text>
<text x="605.30" y="143.35" font-size="5.90" class="n" text-anchor="middle">0.011</text>
<text x="642.10" y="143.33" font-size="5.90" class="n" text-anchor="middle">0.001</text>
<text x="676.65" y="143.31" font-size="5.90" class="n" text-anchor="middle">0.0002</text>
<text x="605.30" y="153.80" font-size="5.90" class="n" text-anchor="middle">0.040</text>
<text x="642.10" y="153.78" font-size="5.90" class="n" text-anchor="middle">0.005</text>
<text x="676.65" y="153.76" font-size="5.90" class="n" text-anchor="middle">0.002</text>
<text x="605.30" y="164.50" font-size="5.90" class="n" text-anchor="middle">0.020<tspan font-size="3.66" dy="-2">a</tspan></text>
<text x="642.10" y="164.48" font-size="5.90" class="n" text-anchor="middle">0.002</text>
<text x="676.65" y="164.46" font-size="5.90" class="n" text-anchor="middle">0.0005</text>
<text x="605.30" y="174.50" font-size="5.90" class="n" text-anchor="middle">0.062</text>
<text x="642.10" y="174.48" font-size="5.90" class="n" text-anchor="middle">0.010</text>
<text x="676.65" y="174.46" font-size="5.90" class="n" text-anchor="middle">0.005</text>
<text x="605.30" y="184.10" font-size="5.90" class="n" text-anchor="middle">0.036</text>
<text x="642.10" y="184.08" font-size="5.90" class="n" text-anchor="middle">0.004</text>
<text x="676.65" y="184.06" font-size="5.90" class="n" text-anchor="middle">0.002</text>
<text x="605.30" y="193.65" font-size="5.90" class="n" text-anchor="middle">0.092</text>
<text x="642.10" y="193.63" font-size="5.90" class="n" text-anchor="middle">0.020</text>
<text x="676.65" y="193.61" font-size="5.90" class="n" text-anchor="middle">0.010</text>
<text x="639.85" y="124.48" font-size="5.90" font-weight="bold" text-anchor="middle">Secondary</text>
<text x="639.85" y="134.08" font-size="5.90" font-weight="bold" text-anchor="middle">AML (1 point)</text>
<text x="605.30" y="203.30" font-size="5.90" font-weight="bold" text-anchor="middle">Fav/Int</text>
<text x="605.30" y="212.50" font-size="5.90" font-weight="bold" text-anchor="middle">(0 point)</text>
<text x="642.10" y="203.28" font-size="5.90" font-weight="bold" text-anchor="middle">Unknown</text>
<text x="642.10" y="212.48" font-size="5.90" font-weight="bold" text-anchor="middle">(3 points)</text>
<text x="676.65" y="203.26" font-size="5.90" font-weight="bold" text-anchor="middle">Adverse</text>
<text x="676.65" y="212.46" font-size="5.90" font-weight="bold" text-anchor="middle">(4 points)</text>
<text x="639.85" y="221.18" font-size="5.90" font-weight="bold" text-anchor="middle">Cytogenetic risk</text>
<text x="415.90" y="143.49" font-size="5.90" font-weight="bold" text-anchor="middle">WBC</text>
<text x="415.90" y="152.89" font-size="5.90" font-weight="bold" text-anchor="middle">(G/L)</text>
<text x="432.60" y="143.48" font-size="5.90" font-weight="bold">&gt;50 (2 pts)</text>
<text x="432.60" y="154.38" font-size="5.90" font-weight="bold">≤50 (0 pt)</text>
<text x="415.90" y="164.69" font-size="5.90" font-weight="bold" text-anchor="middle">WBC</text>
<text x="415.90" y="174.09" font-size="5.90" font-weight="bold" text-anchor="middle">(G/L)</text>
<text x="432.60" y="164.68" font-size="5.90" font-weight="bold">&gt;50 (2 pts)</text>
<text x="432.60" y="174.68" font-size="5.90" font-weight="bold">≤50 (0 pt)</text>
<text x="415.90" y="184.39" font-size="5.90" font-weight="bold" text-anchor="middle">WBC</text>
<text x="415.90" y="193.79" font-size="5.90" font-weight="bold" text-anchor="middle">(G/L)</text>
<text x="432.60" y="184.38" font-size="5.90" font-weight="bold">&gt;50 (2 pts)</text>
<text x="432.60" y="193.88" font-size="5.90" font-weight="bold">≤50 (0 pt)</text>
<text x="694.70" y="143.35" font-size="5.90" font-weight="bold">No NPM1+/FLT3-ITD-</text>
<text x="694.70" y="152.75" font-size="5.90" font-weight="bold">(0 point)</text>
<text x="694.70" y="164.25" font-size="5.90" font-weight="bold">Unknown NPM1 or FLT3-ITD</text>
<text x="694.70" y="173.65" font-size="5.90" font-weight="bold">(-1 point)</text>
<text x="694.70" y="184.25" font-size="5.90" font-weight="bold">NPM1+/FLT3-ITD-</text>
<text x="694.70" y="193.65" font-size="5.90" font-weight="bold">(-2 points)</text>
<text x="86.10" y="281.36" font-size="5.90" class="n" text-anchor="middle">0.009</text>
<text x="123.10" y="281.34" font-size="5.90" class="n" text-anchor="middle">0.0004</text>
<text x="159.70" y="281.32" font-size="5.90" class="n" text-anchor="middle">0.0001</text>
<text x="86.10" y="291.96" font-size="5.90" class="n" text-anchor="middle">0.035</text>
<text x="123.10" y="291.94" font-size="5.90" class="n" text-anchor="middle">0.004</text>
<text x="159.70" y="291.92" font-size="5.90" class="n" text-anchor="middle">0.002</text>
<text x="86.10" y="302.81" font-size="5.90" class="n" text-anchor="middle">0.017</text>
<text x="123.10" y="302.79" font-size="5.90" class="n" text-anchor="middle">0.001</text>
<text x="159.70" y="302.77" font-size="5.90" class="n" text-anchor="middle">0.0004</text>
<text x="86.10" y="312.66" font-size="5.90" class="n" text-anchor="middle">0.055</text>
<text x="123.10" y="312.64" font-size="5.90" class="n" text-anchor="middle">0.009</text>
<text x="159.70" y="312.62" font-size="5.90" class="n" text-anchor="middle">0.004</text>
<text x="86.10" y="322.51" font-size="5.90" class="n" text-anchor="middle">0.031</text>
<text x="123.10" y="322.49" font-size="5.90" class="n" text-anchor="middle">0.003</text>
<text x="159.70" y="322.47" font-size="5.90" class="n" text-anchor="middle">0.001</text>
<text x="86.10" y="332.41" font-size="5.90" class="n" text-anchor="middle">0.084</text>
<text x="123.10" y="332.39" font-size="5.90" class="n" text-anchor="middle">0.017</text>
<text x="159.70" y="332.37" font-size="5.90" class="n" text-anchor="middle">0.008</text>
<text x="122.70" y="262.34" font-size="5.90" font-weight="bold" text-anchor="middle">De Novo</text>
<text x="122.70" y="271.94" font-size="5.90" font-weight="bold" text-anchor="middle">AML (0 point)</text>
<text x="86.10" y="342.26" font-size="5.90" font-weight="bold" text-anchor="middle">Fav/Int</text>
<text x="86.10" y="351.46" font-size="5.90" font-weight="bold" text-anchor="middle">(0 point)</text>
<text x="123.10" y="342.24" font-size="5.90" font-weight="bold" text-anchor="middle">Unknown</text>
<text x="123.10" y="351.44" font-size="5.90" font-weight="bold" text-anchor="middle">(3 points)</text>
<text x="159.70" y="342.22" font-size="5.90" font-weight="bold" text-anchor="middle">Adverse</text>
<text x="159.70" y="351.42" font-size="5.90" font-weight="bold" text-anchor="middle">(4 points)</text>
<text x="122.70" y="359.84" font-size="5.90" font-weight="bold" text-anchor="middle">Cytogenetic risk</text>
<text x="205.15" y="281.70" font-size="5.90" class="n" text-anchor="middle">0.003</text>
<text x="242.05" y="281.68" font-size="5.90" class="n" text-anchor="middle">0.0001</text>
<text x="276.45" y="281.66" font-size="5.90" class="n" text-anchor="middle">0.00002</text>
<text x="205.15" y="292.00" font-size="5.90" class="n" text-anchor="middle">0.017</text>
<text x="242.05" y="291.98" font-size="5.90" class="n" text-anchor="middle">0.001</text>
<text x="276.45" y="291.96" font-size="5.90" class="n" text-anchor="middle">0.0004</text>
<text x="205.15" y="302.80" font-size="5.90" class="n" text-anchor="middle">0.007</text>
<text x="242.05" y="302.78" font-size="5.90" class="n" text-anchor="middle">0.0003</text>
<text x="276.45" y="302.76" font-size="5.90" class="n" text-anchor="middle">0.00008</text>
<text x="205.15" y="312.95" font-size="5.90" class="n" text-anchor="middle">0.030</text>
<text x="242.05" y="312.93" font-size="5.90" class="n" text-anchor="middle">0.003</text>
<text x="276.45" y="312.91" font-size="5.90" class="n" text-anchor="middle">0.0012</text>
<text x="205.15" y="322.45" font-size="5.90" class="n" text-anchor="middle">0.015</text>
<text x="242.05" y="322.43" font-size="5.90" class="n" text-anchor="middle">0.001</text>
<text x="276.45" y="322.41" font-size="5.90" class="n" text-anchor="middle">0.0003</text>
<text x="205.15" y="332.20" font-size="5.90" class="n" text-anchor="middle">0.050</text>
<text x="242.05" y="332.18" font-size="5.90" class="n" text-anchor="middle">0.007</text>
<text x="276.45" y="332.16" font-size="5.90" class="n" text-anchor="middle">0.003</text>
<text x="239.55" y="262.28" font-size="5.90" font-weight="bold" text-anchor="middle">Secondary</text>
<text x="239.55" y="271.88" font-size="5.90" font-weight="bold" text-anchor="middle">AML (1 point)</text>
<text x="205.15" y="341.90" font-size="5.90" font-weight="bold" text-anchor="middle">Fav/Int</text>
<text x="205.15" y="351.10" font-size="5.90" font-weight="bold" text-anchor="middle">(0 point)</text>
<text x="242.05" y="341.88" font-size="5.90" font-weight="bold" text-anchor="middle">Unknown</text>
<text x="242.05" y="351.08" font-size="5.90" font-weight="bold" text-anchor="middle">(3 points)</text>
<text x="276.45" y="341.86" font-size="5.90" font-weight="bold" text-anchor="middle">Adverse</text>
<text x="276.45" y="351.06" font-size="5.90" font-weight="bold" text-anchor="middle">(4 points)</text>
<text x="239.55" y="359.78" font-size="5.90" font-weight="bold" text-anchor="middle">Cytogenetic risk</text>
<text x="15.65" y="281.69" font-size="5.90" font-weight="bold" text-anchor="middle">WBC</text>
<text x="15.65" y="291.09" font-size="5.90" font-weight="bold" text-anchor="middle">(G/L)</text>
<text x="32.10" y="281.68" font-size="5.90" font-weight="bold">&gt;50 (2 pts)</text>
<text x="32.10" y="290.98" font-size="5.90" font-weight="bold">≤50 (0 pt)</text>
<text x="15.65" y="302.89" font-size="5.90" font-weight="bold" text-anchor="middle">WBC</text>
<text x="15.65" y="312.29" font-size="5.90" font-weight="bold" text-anchor="middle">(G/L)</text>
<text x="32.10" y="302.88" font-size="5.90" font-weight="bold">&gt;50 (2 pts)</text>
<text x="32.10" y="312.68" font-size="5.90" font-weight="bold">≤50 (0 pt)</text>
<text x="15.65" y="322.59" font-size="5.90" font-weight="bold" text-anchor="middle">WBC</text>
<text x="15.65" y="331.99" font-size="5.90" font-weight="bold" text-anchor="middle">(G/L)</text>
<text x="32.10" y="322.58" font-size="5.90" font-weight="bold">&gt;50 (2 pts)</text>
<text x="32.10" y="332.38" font-size="5.90" font-weight="bold">≤50 (0 pt)</text>
<text x="294.40" y="281.55" font-size="5.90" font-weight="bold">No NPM1+/FLT3-ITD-</text>
<text x="294.40" y="290.95" font-size="5.90" font-weight="bold">(0 point)</text>
<text x="294.40" y="300.95" font-size="5.90" font-weight="bold">Unknown NPM1 or FLT3-ITD</text>
<text x="294.40" y="310.35" font-size="5.90" font-weight="bold">(-1 point)</text>
<text x="294.40" y="322.45" font-size="5.90" font-weight="bold">NPM1+/FLT3-ITD-</text>
<text x="294.40" y="331.85" font-size="5.90" font-weight="bold">(-2 points)</text>
<text x="486.45" y="282.11" font-size="5.90" class="n" text-anchor="middle">0.0006</text>
<text x="523.40" y="282.09" font-size="5.90" class="n" text-anchor="middle">0.000005</text>
<text x="560.05" y="282.07" font-size="5.90" class="n" text-anchor="middle">0.0000006</text>
<text x="486.45" y="291.86" font-size="5.90" class="n" text-anchor="middle">0.005</text>
<text x="523.40" y="291.84" font-size="5.90" class="n" text-anchor="middle">0.0002</text>
<text x="560.05" y="291.82" font-size="5.90" class="n" text-anchor="middle">0.00004</text>
<text x="486.45" y="302.21" font-size="5.90" class="n" text-anchor="middle">0.002</text>
<text x="523.40" y="302.19" font-size="5.90" class="n" text-anchor="middle">0.00003</text>
<text x="560.05" y="302.17" font-size="5.90" class="n" text-anchor="middle">0.000004</text>
<text x="486.45" y="312.76" font-size="5.90" class="n" text-anchor="middle">0.010</text>
<text x="523.40" y="312.74" font-size="5.90" class="n" text-anchor="middle">0.0006</text>
<text x="560.05" y="312.72" font-size="5.90" class="n" text-anchor="middle">0.0001</text>
<text x="486.45" y="322.31" font-size="5.90" class="n" text-anchor="middle">0.004</text>
<text x="523.40" y="322.29" font-size="5.90" class="n" text-anchor="middle">0.0001</text>
<text x="560.05" y="322.27" font-size="5.90" class="n" text-anchor="middle">0.00003</text>
<text x="486.45" y="331.86" font-size="5.90" class="n" text-anchor="middle">0.020</text>
<text x="523.40" y="331.84" font-size="5.90" class="n" text-anchor="middle">0.002</text>
<text x="560.05" y="331.82" font-size="5.90" class="n" text-anchor="middle">0.0005</text>
<text x="523.10" y="262.34" font-size="5.90" font-weight="bold" text-anchor="middle">De Novo</text>
<text x="523.10" y="271.94" font-size="5.90" font-weight="bold" text-anchor="middle">AML (0 point)</text>
<text x="486.45" y="341.36" font-size="5.90" font-weight="bold" text-anchor="middle">Fav/Int</text>
<text x="486.45" y="350.56" font-size="5.90" font-weight="bold" text-anchor="middle">(0 point)</text>
<text x="523.40" y="341.34" font-size="5.90" font-weight="bold" text-anchor="middle">Unknown</text>
<text x="523.40" y="350.54" font-size="5.90" font-weight="bold" text-anchor="middle">(3 points)</text>
<text x="560.05" y="341.32" font-size="5.90" font-weight="bold" text-anchor="middle">Adverse</text>
<text x="560.05" y="350.52" font-size="5.90" font-weight="bold" text-anchor="middle">(4 points)</text>
<text x="523.10" y="359.44" font-size="5.90" font-weight="bold" text-anchor="middle">Cytogenetic risk</text>
<text x="605.20" y="282.10" font-size="5.90" class="n" text-anchor="middle">0.0001</text>
<text x="642.15" y="282.08" font-size="5.90" class="n" text-anchor="middle">0.0000004</text>
<text x="678.60" y="282.06" font-size="5.90" class="n" text-anchor="middle">0.00000003</text>
<text x="605.20" y="292.80" font-size="5.90" class="n" text-anchor="middle">0.002</text>
<text x="642.15" y="292.78" font-size="5.90" class="n" text-anchor="middle">0.00003</text>
<text x="678.60" y="292.76" font-size="5.90" class="n" text-anchor="middle">0.000004</text>
<text x="605.20" y="303.20" font-size="5.90" class="n" text-anchor="middle">0.0004</text>
<text x="642.15" y="303.18" font-size="5.90" class="n" text-anchor="middle">0.000003</text>
<text x="678.60" y="303.16" font-size="5.90" class="n" text-anchor="middle">0.0000003</text>
<text x="605.20" y="312.80" font-size="5.90" class="n" text-anchor="middle">0.004</text>
<text x="642.15" y="312.78" font-size="5.90" class="n" text-anchor="middle">0.0001</text>
<text x="678.60" y="312.76" font-size="5.90" class="n" text-anchor="middle">0.00002</text>
<text x="605.20" y="322.25" font-size="5.90" class="n" text-anchor="middle">0.001</text>
<text x="642.15" y="322.23" font-size="5.90" class="n" text-anchor="middle">0.00002</text>
<text x="678.60" y="322.21" font-size="5.90" class="n" text-anchor="middle">0.000003</text>
<text x="605.20" y="331.80" font-size="5.90" class="n" text-anchor="middle">0.009</text>
<text x="642.15" y="331.78" font-size="5.90" class="n" text-anchor="middle">0.0004</text>
<text x="678.60" y="331.76" font-size="5.90" class="n" text-anchor="middle">0.0001</text>
<text x="641.65" y="262.28" font-size="5.90" font-weight="bold" text-anchor="middle">Secondary</text>
<text x="641.65" y="271.88" font-size="5.90" font-weight="bold" text-anchor="middle">AML (1 point)</text>
<text x="605.20" y="341.30" font-size="5.90" font-weight="bold" text-anchor="middle">Fav/Int</text>
<text x="605.20" y="350.50" font-size="5.90" font-weight="bold" text-anchor="middle">(0 point)</text>
<text x="642.15" y="341.28" font-size="5.90" font-weight="bold" text-anchor="middle">Unknown</text>
<text x="642.15" y="350.48" font-size="5.90" font-weight="bold" text-anchor="middle">(3 points)</text>
<text x="678.60" y="341.26" font-size="5.90" font-weight="bold" text-anchor="middle">Adverse</text>
<text x="678.60" y="350.46" font-size="5.90" font-weight="bold" text-anchor="middle">(4 points)</text>
<text x="641.65" y="359.38" font-size="5.90" font-weight="bold" text-anchor="middle">Cytogenetic risk</text>
<text x="415.90" y="281.79" font-size="5.90" font-weight="bold" text-anchor="middle">WBC</text>
<text x="415.90" y="291.19" font-size="5.90" font-weight="bold" text-anchor="middle">(G/L)</text>
<text x="432.60" y="281.78" font-size="5.90" font-weight="bold">&gt;50 (2 pts)</text>
<text x="432.60" y="292.38" font-size="5.90" font-weight="bold">≤50 (0 pt)</text>
<text x="415.90" y="301.29" font-size="5.90" font-weight="bold" text-anchor="middle">WBC</text>
<text x="415.90" y="310.69" font-size="5.90" font-weight="bold" text-anchor="middle">(G/L)</text>
<text x="432.60" y="301.28" font-size="5.90" font-weight="bold">&gt;50 (2 pts)</text>
<text x="432.60" y="313.08" font-size="5.90" font-weight="bold">≤50 (0 pt)</text>
<text x="415.90" y="322.39" font-size="5.90" font-weight="bold" text-anchor="middle">WBC</text>
<text x="415.90" y="331.79" font-size="5.90" font-weight="bold" text-anchor="middle">(G/L)</text>
<text x="432.60" y="322.38" font-size="5.90" font-weight="bold">&gt;50 (2 pts)</text>
<text x="432.60" y="332.18" font-size="5.90" font-weight="bold">≤50 (0 pt)</text>
<text x="698.40" y="281.65" font-size="5.90" font-weight="bold">No NPM1+/FLT3-ITD-</text>
<text x="698.40" y="291.05" font-size="5.90" font-weight="bold">(0 point)</text>
<text x="698.40" y="303.05" font-size="5.90" font-weight="bold">Unknown NPM1 or FLT3-ITD</text>
<text x="698.40" y="312.45" font-size="5.90" font-weight="bold">(-1 point)</text>
<text x="698.40" y="322.25" font-size="5.90" font-weight="bold">NPM1+/FLT3-ITD-</text>
<text x="698.40" y="331.65" font-size="5.90" font-weight="bold">(-2 points)</text>
<text x="43.00" y="391.28" font-size="8.79" font-weight="bold" textLength="95.9" lengthAdjust="spacingAndGlyphs">ESS70+ = 5 (if age≥80y)</text>
<text x="141.20" y="391.23" font-size="8.85" font-weight="bold" textLength="146.9" lengthAdjust="spacingAndGlyphs">+ 3 (if ECOG performance status&gt;1)</text>
<text x="290.40" y="391.15" font-size="8.86" font-weight="bold" textLength="92.9" lengthAdjust="spacingAndGlyphs">+ 1 (if secondary AML)</text>
<text x="385.60" y="391.11" font-size="8.90" font-weight="bold" textLength="81.7" lengthAdjust="spacingAndGlyphs">+ 2 (if WBC &gt;50G/L)</text>
<text x="469.60" y="391.07" font-size="8.86" font-weight="bold" textLength="130.1" lengthAdjust="spacingAndGlyphs">+ 4 (if adverse cytogenetic risk)</text>
<text x="602.00" y="391.00" font-size="8.87" font-weight="bold" textLength="135.6" lengthAdjust="spacingAndGlyphs">+ 3 (if unknown cytogenetic risk)</text>
<text x="43.00" y="403.18" font-size="8.94" font-weight="bold" textLength="118" lengthAdjust="spacingAndGlyphs">- 2 (if <tspan font-style="italic">NPM1</tspan>+ and <tspan font-style="italic">FLT3</tspan>-ITD-)</text>
<text x="164.40" y="403.12" font-size="8.88" font-weight="bold" textLength="142.6" lengthAdjust="spacingAndGlyphs">- 1 (if unknown <tspan font-style="italic">NPM1</tspan> or <tspan font-style="italic">FLT3</tspan>-ITD)</text>
</g>
</svg>
</body></html>
